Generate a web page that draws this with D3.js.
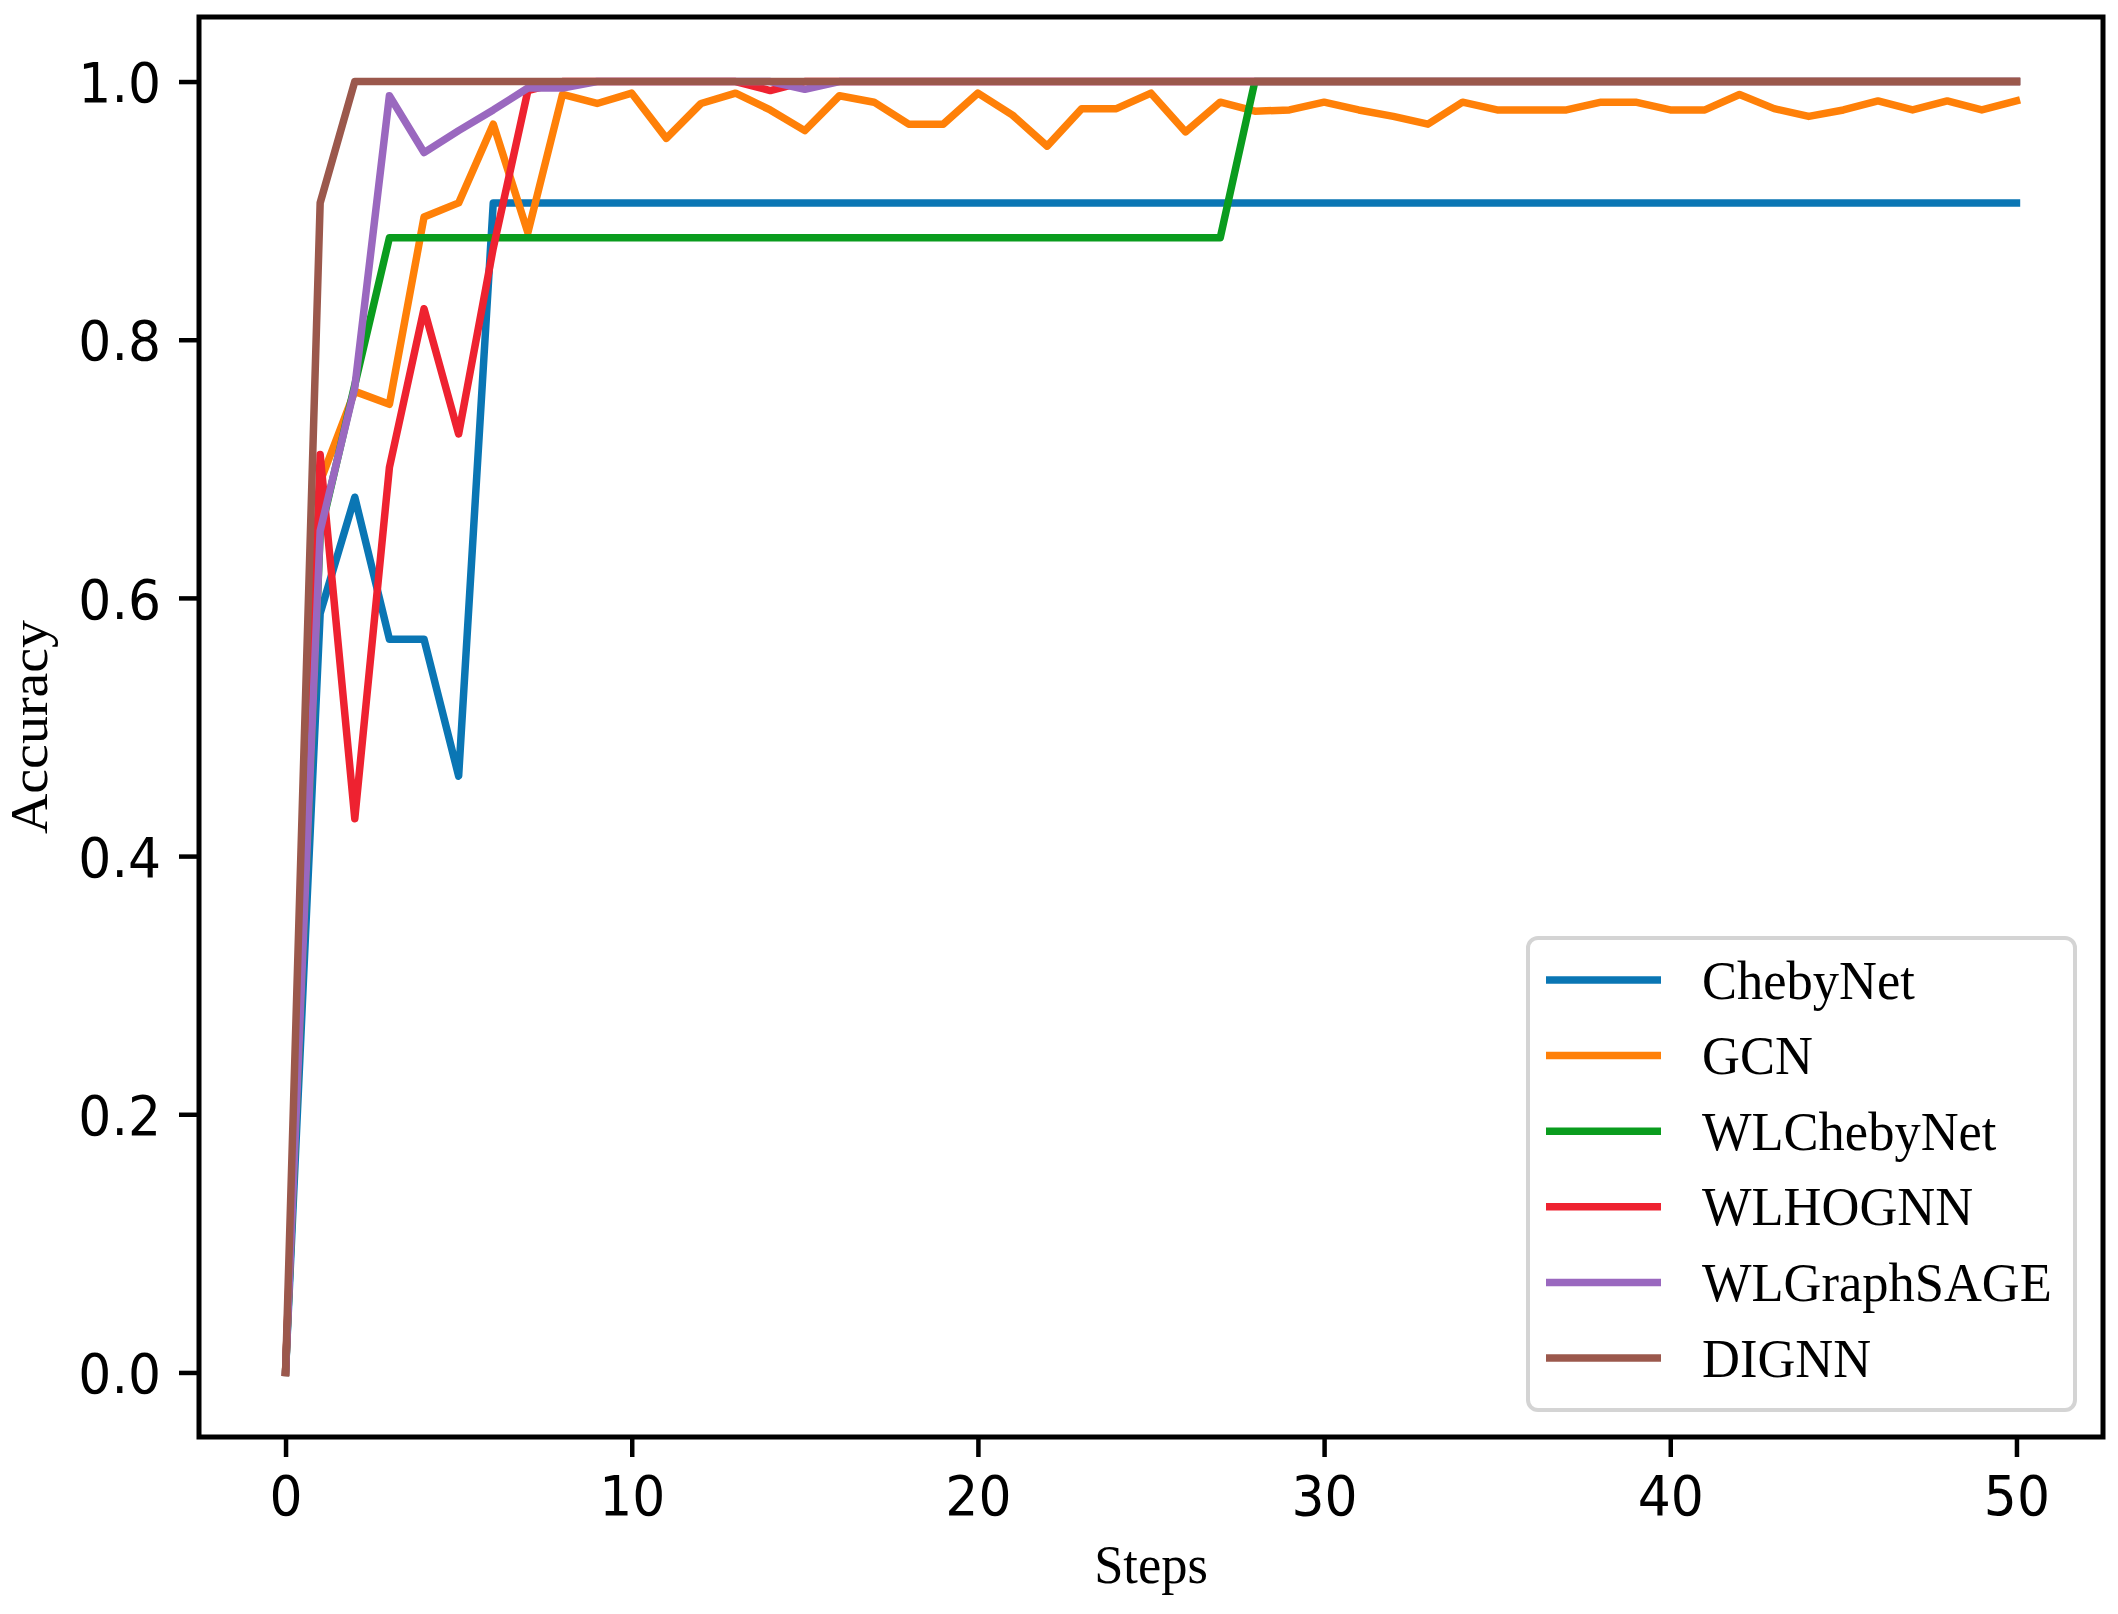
<!DOCTYPE html>
<html>
<head>
<meta charset="utf-8">
<script src="https://cdn.jsdelivr.net/npm/d3@7/dist/d3.min.js"></script>
<style>
  html, body { margin: 0; padding: 0; background: #fff; }
  svg { display: block; }
</style>
</head>
<body>
<svg id="chart" width="2118" height="1614"></svg>
<script>
// ---------------- DATA ----------------
const steps = [0,1,2,3,4,5,6,7,8,9,10,11,12,13,14,15,16,17,18,19,20,21,22,23,24,25,26,27,28,29,30,31,32,33,34,35,36,37,38,39,40,41,42,43,44,45,46,47,48,49,50];

const seriesNames = ["ChebyNet", "GCN", "WLChebyNet", "WLHOGNN", "WLGraphSAGE", "DIGNN"];

const chebyNet = [0, 0.588, 0.678, 0.568, 0.568, 0.462, 0.906,
  0.906,0.906,0.906,0.906,0.906,0.906,0.906,0.906,0.906,0.906,0.906,0.906,0.906,0.906,0.906,0.906,0.906,0.906,0.906,0.906,0.906,0.906,
  0.906,0.906,0.906,0.906,0.906,0.906,0.906,0.906,0.906,0.906,0.906,0.906,0.906,0.906,0.906,0.906,0.906,0.906,0.906,0.906,0.906,0.906];

const gcn = [0, 0.69, 0.76, 0.75, 0.895, 0.906, 0.967, 0.883, 0.990, 0.983,
  0.991, 0.956, 0.983, 0.991, 0.978, 0.962, 0.989, 0.984, 0.967, 0.967,
  0.991, 0.974, 0.950, 0.979, 0.979, 0.991, 0.961, 0.984, 0.977, 0.978,
  0.984, 0.978, 0.973, 0.967, 0.984, 0.978, 0.978, 0.978, 0.984, 0.984,
  0.978, 0.978, 0.990, 0.979, 0.973, 0.978, 0.985, 0.978, 0.985, 0.978, 0.985];

const wlChebyNet = [0, 0.65, 0.765,
  0.879,0.879,0.879,0.879,0.879,0.879,0.879,0.879,0.879,0.879,0.879,0.879,0.879,0.879,0.879,0.879,0.879,0.879,0.879,0.879,0.879,0.879,0.879,0.879,0.879,
  1,1,1,1,1,1,1,1,1,1,1,1,1,1,1,1,1,1,1,1,1,1,1];

const wlHognn = [0, 0.711, 0.429, 0.701, 0.824, 0.727, 0.871, 0.993,
  1,1,1,1,1,1, 0.993,
  1,1,1,1,1,1,1,1,1,1,1,1,1,1,1,1,1,1,1,1,1,1,1,1,1,1,1,1,1,1,1,1,1,1,1,1];

const wlGraphSage = [0, 0.652, 0.763, 0.989, 0.945, 0.962, 0.978, 0.995, 0.995,
  1,1,1,1,1,1, 0.994,
  1,1,1,1,1,1,1,1,1,1,1,1,1,1,1,1,1,1,1,1,1,1,1,1,1,1,1,1,1,1,1,1,1,1,1];

const dignn = [0, 0.906,
  1,1,1,1,1,1,1,1,1,1,1,1,1,1,1,1,1,1,1,1,1,1,1,1,1,1,1,1,1,1,1,1,1,1,1,1,1,1,1,1,1,1,1,1,1,1,1,1,1];

const seriesValues = [chebyNet, gcn, wlChebyNet, wlHognn, wlGraphSage, dignn];
const seriesColors = ["#0a76b4", "#ff8008", "#0a9c1e", "#ee2230", "#9a68bf", "#9b584c"];

const xTickValues = [0, 10, 20, 30, 40, 50];
const xTickLabels = ["0", "10", "20", "30", "40", "50"];
const yTickValues = [0, 0.2, 0.4, 0.6, 0.8, 1.0];
const yTickLabels = ["0.0", "0.2", "0.4", "0.6", "0.8", "1.0"];

const xLabel = "Steps";
const yLabel = "Accuracy";

// ---------------- LAYOUT ----------------
const plot = { left: 199, right: 2103, top: 17, bottom: 1437 };
const STRETCH = 1.065;
const serif = "'Liberation Serif', 'Times New Roman', serif";
const sans = "'DejaVu Sans', sans-serif";

const svg = d3.select("#chart");

const x = d3.scaleLinear().domain([-2.5, 52.5]).range([plot.left, plot.right]);
const y = d3.scaleLinear().domain([-0.05, 1.05]).range([plot.bottom, plot.top]);

// clip
svg.append("defs").append("clipPath").attr("id", "clip")
  .append("rect")
  .attr("x", plot.left).attr("y", plot.top)
  .attr("width", plot.right - plot.left).attr("height", plot.bottom - plot.top);

// lines
const line = d3.line()
  .x((d, i) => x(steps[i]))
  .y(d => y(d));

const gLines = svg.append("g").attr("clip-path", "url(#clip)");
seriesValues.forEach((vals, k) => {
  gLines.append("path")
    .datum(vals)
    .attr("d", line)
    .attr("fill", "none")
    .attr("stroke", seriesColors[k])
    .attr("stroke-width", 7.5)
    .attr("stroke-linejoin", "round")
    .attr("stroke-linecap", "square");
});

// axes
const xAxis = d3.axisBottom(x)
  .tickValues(xTickValues)
  .tickFormat((d, i) => xTickLabels[i])
  .tickSize(20)
  .tickPadding(0);

const gx = svg.append("g")
  .attr("transform", `translate(0,${plot.bottom})`)
  .call(xAxis);
gx.select(".domain").remove();
gx.selectAll(".tick line").attr("stroke", "#000").attr("stroke-width", 4.5);
gx.selectAll(".tick text")
  .attr("y", 0).attr("dy", 0)
  .attr("transform", `translate(0,${1515 - plot.bottom}) scale(1,${STRETCH})`)
  .attr("fill", "#000")
  .style("font-family", sans)
  .style("font-size", "52px")
  .attr("text-anchor", "middle");

const yAxis = d3.axisLeft(y)
  .tickValues(yTickValues)
  .tickFormat((d, i) => yTickLabels[i])
  .tickSize(20)
  .tickPadding(0);

const gy = svg.append("g")
  .attr("transform", `translate(${plot.left},0)`)
  .call(yAxis);
gy.select(".domain").remove();
gy.selectAll(".tick line").attr("stroke", "#000").attr("stroke-width", 4.5);
gy.selectAll(".tick text")
  .attr("x", 0).attr("dy", "0.3645em")
  .attr("transform", `translate(${161 - plot.left},0) scale(1,${STRETCH})`)
  .attr("fill", "#000")
  .style("font-family", sans)
  .style("font-size", "52px")
  .attr("text-anchor", "end");

// frame
svg.append("rect")
  .attr("x", plot.left).attr("y", plot.top)
  .attr("width", plot.right - plot.left).attr("height", plot.bottom - plot.top)
  .attr("fill", "none")
  .attr("stroke", "#000")
  .attr("stroke-width", 5);

// axis labels
svg.append("text")
  .attr("transform", `translate(${(plot.left + plot.right) / 2},1583) scale(1,${STRETCH})`)
  .attr("text-anchor", "middle")
  .style("font-family", serif)
  .style("font-size", "52.5px")
  .attr("fill", "#000")
  .text(xLabel);

svg.append("text")
  .attr("transform", `translate(47,${(plot.top + plot.bottom) / 2}) scale(1,${STRETCH}) rotate(-90)`)
  .attr("text-anchor", "middle")
  .style("font-family", serif)
  .style("font-size", "52.5px")
  .attr("fill", "#000")
  .text(yLabel);

// legend
const legend = { x: 1528, y: 938, w: 547, h: 472 };
const legendRows = d3.scaleLinear().domain([0, seriesNames.length - 1]).range([980, 1358]);

svg.append("rect")
  .attr("x", legend.x).attr("y", legend.y)
  .attr("width", legend.w).attr("height", legend.h)
  .attr("rx", 10).attr("ry", 10)
  .attr("fill", "#fff")
  .attr("fill-opacity", 0.8)
  .attr("stroke", "#d4d4d4")
  .attr("stroke-width", 4);

seriesNames.forEach((name, k) => {
  const ry = legendRows(k);
  svg.append("line")
    .attr("x1", 1546).attr("x2", 1661)
    .attr("y1", ry).attr("y2", ry)
    .attr("stroke", seriesColors[k])
    .attr("stroke-width", 7.5);
  svg.append("text")
    .attr("transform", `translate(1702,${ry + 18.5}) scale(1,${STRETCH})`)
    .style("font-family", serif)
    .style("font-size", "52.5px")
    .attr("fill", "#000")
    .text(name);
});
</script>
</body>
</html>
